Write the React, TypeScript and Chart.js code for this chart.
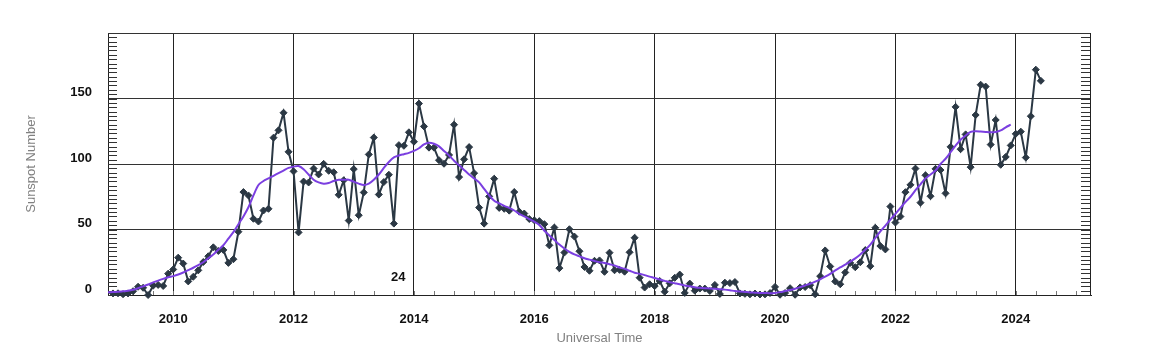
import { useEffect, useRef } from 'react';
import { Chart, registerables } from 'chart.js';

Chart.register(...registerables);

// Monthly mean sunspot numbers, Jan..Dec of each year
const ssn2009 = [1.2, 1.3, 0.6, 1.2, 2.9, 6.3, 5.5, 0.0, 7.1, 7.7, 6.9, 16.3];
const ssn2010 = [19.5, 28.5, 24.0, 10.4, 13.9, 18.8, 25.2, 29.6, 36.4, 33.6, 34.4, 24.5];
const ssn2011 = [27.3, 48.3, 78.6, 76.0, 58.2, 56.1, 64.5, 65.8, 120.1, 125.7, 139.1, 109.3];
const ssn2012 = [94.4, 47.8, 86.6, 85.9, 96.5, 92.0, 100.1, 94.8, 93.7, 76.5, 87.6, 56.8];
const ssn2013 = [96.1, 60.9, 78.3, 107.3, 120.2, 76.7, 86.2, 91.8, 54.5, 114.4, 113.9, 124.2];
const ssn2014 = [117.0, 146.1, 128.7, 112.5, 112.5, 102.9, 100.2, 106.9, 130.0, 90.0, 103.6, 112.9];
const ssn2015 = [93.0, 66.7, 54.5, 75.3, 88.8, 66.5, 65.8, 64.4, 78.6, 63.6, 62.2, 58.0];
const ssn2016 = [57.0, 56.4, 54.1, 37.9, 51.5, 20.5, 32.4, 50.2, 44.6, 33.4, 21.4, 18.5];
const ssn2017 = [26.1, 26.4, 17.7, 32.3, 18.9, 19.2, 17.8, 32.6, 43.7, 13.2, 5.7, 8.2];
const ssn2018 = [6.8, 10.7, 2.5, 8.9, 13.1, 15.6, 1.6, 8.7, 3.3, 4.9, 4.9, 3.1];
const ssn2019 = [7.7, 0.8, 9.4, 9.1, 9.9, 1.2, 0.9, 0.5, 1.1, 0.4, 0.5, 1.5];
const ssn2020 = [6.2, 0.2, 1.5, 5.2, 0.2, 5.8, 6.1, 7.5, 0.6, 14.4, 34.0, 21.8];
const ssn2021 = [10.4, 8.2, 17.2, 24.5, 21.2, 25.0, 34.3, 22.0, 51.3, 37.4, 34.8, 67.5];
const ssn2022 = [55.3, 59.9, 78.5, 84.1, 96.5, 70.5, 91.4, 75.4, 96.3, 95.4, 77.6, 113.1];
const ssn2023 = [143.6, 111.3, 122.6, 97.6, 137.4, 160.5, 159.1, 114.8, 133.6, 99.4, 105.4, 114.2];
const ssn2024 = [123.0, 124.7, 104.9, 136.5, 172.0, 163.5];

const monthlyYears = [2009, 2010, 2011, 2012, 2013, 2014, 2015, 2016, 2017, 2018, 2019, 2020, 2021, 2022, 2023, 2024];
const monthlyRows = [ssn2009, ssn2010, ssn2011, ssn2012, ssn2013, ssn2014, ssn2015, ssn2016, ssn2017, ssn2018, ssn2019, ssn2020, ssn2021, ssn2022, ssn2023, ssn2024];

// Smoothed sunspot number (purple curve)
const smDec2008 = 2.1;
const sm2009 = [2.2, 2.4, 2.8, 3.2, 4.0, 5.2, 6.6, 8.0, 9.6, 11.0, 12.3, 13.5];
const sm2010 = [14.4, 15.6, 17.2, 19.0, 20.8, 22.8, 25.0, 28.0, 31.0, 34.5, 38.0, 43.0];
const sm2011 = [48, 54, 60, 67, 76, 84, 87, 89, 91, 93, 95, 97];
const sm2012 = [98, 98.5, 96, 92, 88, 86, 85, 85.5, 87, 88, 88, 88];
const sm2013 = [86.5, 85, 84, 85, 88, 92, 97, 101.5, 105, 106.5, 107.5, 108.5];
const sm2014 = [110, 112, 115, 116.3, 115.5, 113.5, 110, 106.5, 102.5, 99, 95.5, 92];
const sm2015 = [89, 86, 81, 76, 72, 70, 68, 66.5, 64.5, 62, 60, 58];
const sm2016 = [56, 53.5, 49, 45.5, 42, 38.5, 35.5, 33, 31, 29.5, 28, 27];
const sm2017 = [26, 25, 24.5, 23.5, 22.5, 21, 20, 18.5, 17, 16.2, 15.2, 14];
const sm2018 = [13, 11.8, 10.8, 9.8, 9, 8.2, 7.3, 6.6, 6.0, 5.5, 5.2, 5.0];
const sm2019 = [4.7, 4.4, 4.1, 3.6, 3.0, 2.6, 2.3, 2.0, 1.8, 1.6, 1.5, 1.4];
const sm2020 = [1.6, 2.2, 3.0, 3.8, 4.8, 6.0, 7.3, 8.6, 10.2, 12.0, 14.0, 16.2];
const sm2021 = [18.8, 21.0, 23.2, 25.5, 28.0, 31.0, 34.5, 38.5, 43.5, 48.5, 53, 57.5];
const sm2022 = [62, 66.5, 71, 75, 80, 84.5, 89, 92, 95, 100, 104, 109];
const sm2023 = [114, 118.5, 121.8, 124.5, 125, 124.8, 124.5, 124.3, 124.5, 125.6, 128, 130];

const smoothedYears = [2009, 2010, 2011, 2012, 2013, 2014, 2015, 2016, 2017, 2018, 2019, 2020, 2021, 2022, 2023];
const smoothedRows = [sm2009, sm2010, sm2011, sm2012, sm2013, sm2014, sm2015, sm2016, sm2017, sm2018, sm2019, sm2020, sm2021, sm2022, sm2023];

const xTickYears = [2010, 2012, 2014, 2016, 2018, 2020, 2022, 2024];
const yTickValues = [0, 50, 100, 150, 200];
const xMin = 2008 + 11 / 12;
const xMax = 2025.25;
const yMin = 0;
const yMax = 200;
const cycleLabel = '24';
const cycleLabelAt = { x: 2013.74, y: 13.5 };

const FONT = "'Liberation Sans', Arial, Helvetica, sans-serif";

const toPoints = (years: number[], rows: number[][]) =>
  rows.flatMap((row, i) => row.map((v, m) => ({ x: years[i] + m / 12, y: v })));

const decorations = {
  id: 'decorations',
  beforeDatasetsDraw(chart: any) {
    const { ctx, chartArea, scales } = chart;
    const { left, right, top, bottom } = chartArea;
    const x = scales.x;
    const y = scales.y;
    ctx.save();
    // minor y ticks, inward on both sides
    ctx.strokeStyle = '#333';
    ctx.lineWidth = 1;
    ctx.beginPath();
    for (let i = 0; i <= 60; i++) {
      const py = Math.round(y.getPixelForValue(yMin + (i * (yMax - yMin)) / 60)) + 0.5;
      ctx.moveTo(left, py);
      ctx.lineTo(left + 9, py);
      ctx.moveTo(right, py);
      ctx.lineTo(right - 10, py);
    }
    ctx.stroke();
    // minor x ticks every 4 months
    ctx.strokeStyle = '#777';
    ctx.beginPath();
    for (let i = 0; i <= 48; i++) {
      const v = 2009 + i / 3;
      if (v > xMax) break;
      const px = Math.round(x.getPixelForValue(v)) + 0.5;
      ctx.moveTo(px, bottom);
      ctx.lineTo(px, bottom - 4);
    }
    ctx.stroke();
    // right border
    ctx.strokeStyle = '#222';
    ctx.beginPath();
    ctx.moveTo(Math.round(right) - 0.5, top);
    ctx.lineTo(Math.round(right) - 0.5, bottom);
    ctx.stroke();
    // cycle label
    ctx.fillStyle = '#111';
    ctx.font = `bold 13px ${FONT}`;
    ctx.textAlign = 'center';
    ctx.textBaseline = 'middle';
    ctx.fillText(cycleLabel, x.getPixelForValue(cycleLabelAt.x), y.getPixelForValue(cycleLabelAt.y));
    ctx.restore();
  },
};

export default function App() {
  const ref = useRef<HTMLCanvasElement | null>(null);
  useEffect(() => {
    if (!ref.current) return;
    const monthly = toPoints(monthlyYears, monthlyRows);
    const smoothed = [{ x: xMin, y: smDec2008 }, ...toPoints(smoothedYears, smoothedRows)];
    const chart = new Chart(ref.current, {
      type: 'line',
      data: {
        datasets: [
          {
            data: smoothed,
            borderColor: '#7b3fe0',
            borderWidth: 2,
            pointRadius: 0,
            tension: 0.3,
            fill: false,
            clip: false as any,
          },
          {
            data: monthly,
            borderColor: '#2b3844',
            backgroundColor: '#2b3844',
            borderWidth: 2,
            pointStyle: 'rectRot',
            pointRadius: 3.5,
            pointBorderWidth: 1,
            pointBorderColor: '#2b3844',
            pointBackgroundColor: '#2b3844',
            tension: 0,
            fill: false,
            clip: false as any,
          },
        ],
      },
      options: {
        animation: false,
        responsive: false,
        maintainAspectRatio: false,
        parsing: false as any,
        layout: { padding: { left: 0, top: 33, right: 66, bottom: 0 } },
        plugins: { legend: { display: false }, tooltip: { enabled: false } },
        scales: {
          x: {
            type: 'linear',
            min: xMin,
            max: xMax,
            afterFit: (s: any) => {
              s.height = 57;
            },
            afterBuildTicks: (s: any) => {
              s.ticks = xTickYears.map((v) => ({ value: v }));
            },
            ticks: {
              autoSkip: false,
              maxRotation: 0,
              padding: 17,
              color: '#111',
              font: { family: FONT, size: 13, weight: 'bold' },
              callback: (v: any) => String(v),
            },
            grid: { color: '#222', lineWidth: 1, drawTicks: false },
            border: { display: true, color: '#222', width: 1 },
            title: {
              display: true,
              text: 'Universal Time',
              color: '#808080',
              font: { family: FONT, size: 13 },
              padding: { top: 0, bottom: 6 },
            },
          },
          y: {
            type: 'linear',
            min: yMin,
            max: yMax,
            afterFit: (s: any) => {
              s.width = 108;
            },
            afterBuildTicks: (s: any) => {
              s.ticks = yTickValues.map((v) => ({ value: v }));
            },
            ticks: {
              padding: 16,
              labelOffset: -6,
              color: '#111',
              font: { family: FONT, size: 13, weight: 'bold' },
              callback: (v: any) => (v === yMax ? '' : String(v)),
            },
            grid: { color: '#333', lineWidth: 1, drawTicks: false },
            border: { display: true, color: '#222', width: 1 },
            title: {
              display: true,
              text: 'Sunspot Number',
              color: '#808080',
              font: { family: FONT, size: 13 },
              padding: { top: 24, bottom: 0 },
            },
          },
        },
      },
      plugins: [decorations],
    });
    return () => chart.destroy();
  }, []);
  return (
    <div style={{ position: 'fixed', left: 0, top: 0, width: 1157, height: 352, background: '#fff' }}>
      <canvas ref={ref} width={1157} height={352} />
    </div>
  );
}
